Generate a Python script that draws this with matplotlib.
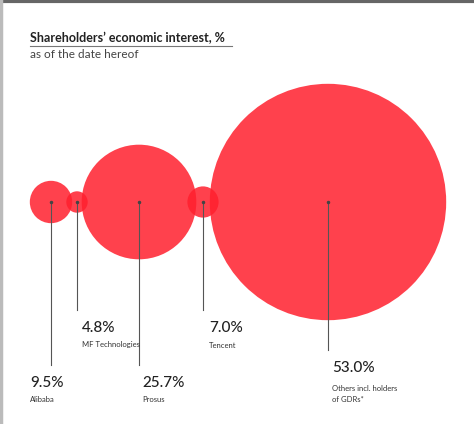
import matplotlib
matplotlib.use("Agg")
import matplotlib.pyplot as plt
from matplotlib.patches import Circle

names = ["Alibaba", "MF Technologies", "Prosus", "Tencent", "Others incl. holders\nof GDRs*"]
values = [9.5, 4.8, 25.7, 7.0, 53.0]
labels = ["9.5%", "4.8%", "25.7%", "7.0%", "53.0%"]
centers_x = [51, 77, 139, 203, 328]
line_end = [365, 310, 365, 310, 350]
label_x = [30, 82, 142, 209, 332]

plt.rcParams['font.family'] = ['Lato', 'DejaVu Sans']
fig = plt.figure(figsize=(4.74, 4.24), dpi=100)
ax = fig.add_axes([0, 0, 1, 1])
ax.set_xlim(0, 474); ax.set_ylim(424, 0); ax.axis('off')
cy = 202
scale = 2.23
for v, x in zip(values, centers_x):
    ax.add_patch(Circle((x, cy), v*scale, color='#ff1f2e', alpha=0.85, lw=0))
for v, x, ye, lx, lab, n in zip(values, centers_x, line_end, label_x, labels, names):
    ax.plot([x, x], [cy, ye], color='#555555', lw=0.8)
    ax.plot([x], [cy], 'o', ms=1.5, color='#444444')
    ax.text(lx, ye+18, lab, fontsize=11, fontweight='medium', color='#222222', va='center')
    ax.text(lx, ye+35, n, fontsize=5.5, color='#333333', va='top' if '\n' in n else 'center', linespacing=1.6)
ax.text(30, 38, "Shareholders’ economic interest, %", fontsize=9, fontweight='bold', color='#222222', va='center')
ax.plot([30, 232], [46, 46], color='#777777', lw=0.8)
ax.text(30, 55, "as of the date hereof", fontsize=8.5, color='#444444', va='center')
ax.plot([0, 474], [1, 1], color='#666666', lw=3)
ax.plot([1, 1], [0, 424], color='#bbbbbb', lw=2.5)
fig.savefig("out.png", dpi=100)
